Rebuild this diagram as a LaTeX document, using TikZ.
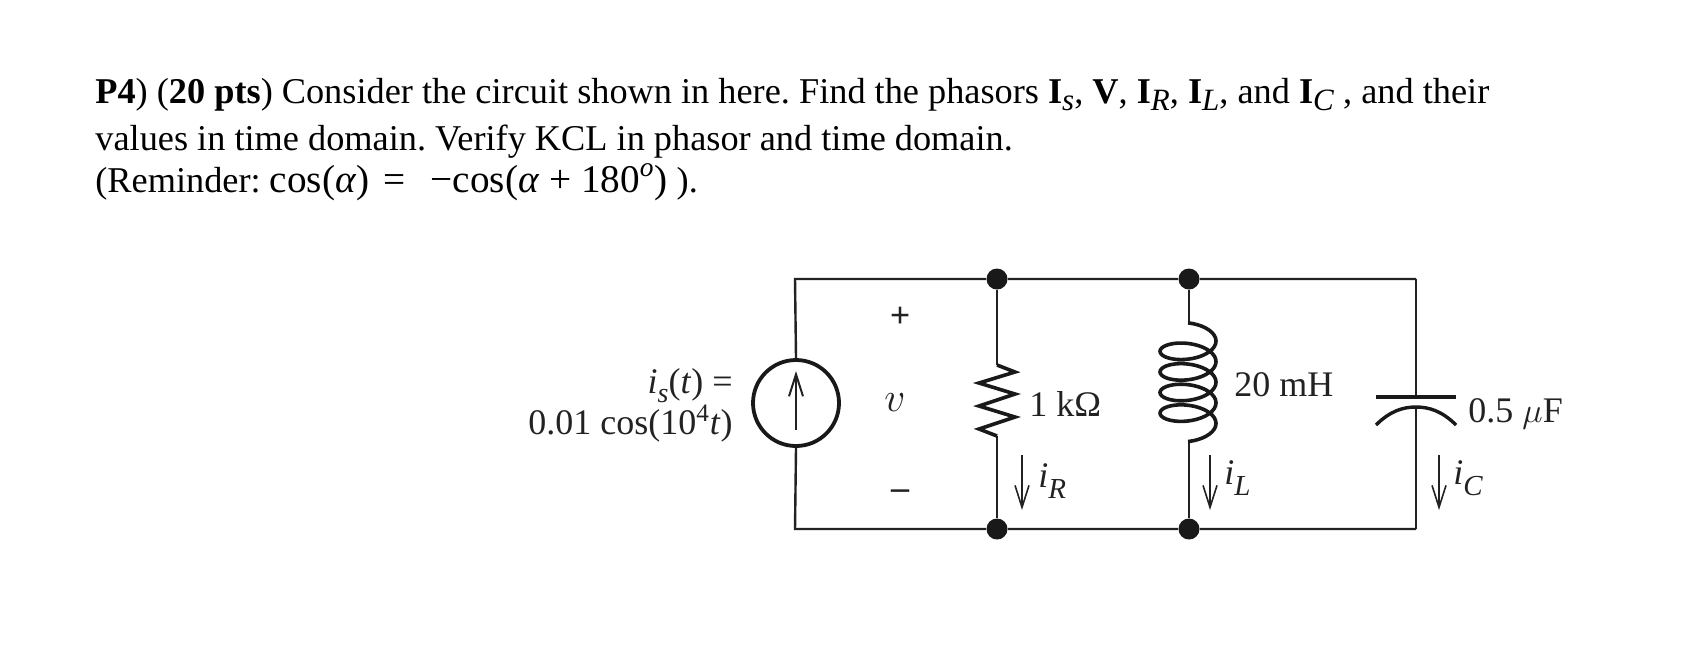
\documentclass[tikz,border=0pt]{standalone}
\usepackage{amsmath}
\usepackage{fontspec}
\setmainfont{Liberation Serif}
\usetikzlibrary{arrows.meta}
\definecolor{wire}{HTML}{222222}
\newcommand{\lowsub}[2]{\raisebox{#2}{\fontsize{15.5}{15.5}\selectfont\textit{#1}}}
\newcommand{\circsub}[1]{\raisebox{-0.32em}{\fontsize{14.5}{14.5}\selectfont\textit{#1}}}
\newcommand{\mathfont}{\fontsize{19.6}{19.6}\selectfont}
\tikzset{
    wireline/.style={wire,line width=1.2pt},
    dotnode/.style={circle,fill=black!90,inner sep=0pt,minimum size=10.5pt},
    titleline/.style={anchor=base west,inner sep=0pt,font=\frenchspacing\fontsize{18.15}{18.15}\selectfont},
    circlabel/.style={anchor=base west,inner sep=0pt,text=wire,font=\fontsize{18}{18}\selectfont},
    currarrow/.style={wire,line width=0.8pt,-{Straight Barb[length=11pt,width=7pt]}}
}

\begin{document}
\begin{tikzpicture}[x=0.5pt,y=-0.5pt]
    \useasboundingbox (0,0) rectangle (1706,666);

    % problem text
    \node[titleline] (lineA) at (95,103) {\textbf{P4}) (\textbf{20 pts}) Consider the circuit shown in here. Find the phasors \textbf{I}\lowsub{s}{-0.2em}, \textbf{V}, \textbf{I}\lowsub{R}{-0.2em}, \textbf{I}\lowsub{L}{-0.2em}, and \textbf{I}\lowsub{C}{-0.2em} , and their};
    \node[titleline] (lineB) at (95,150) {values in time domain. Verify KCL in phasor and time domain.};
    \node[titleline] (lineC) at (95,192) {(Reminder: {\mathfont cos(\textit{α})\hspace{0.1em} = \hspace{0.4em}−cos(\textit{α} + 180\textsuperscript{\textit{o}})} ).};

    % junctions and corners
    \node[dotnode] (topR) at (997,279) {};
    \node[dotnode] (topL) at (1189,279) {};
    \node[dotnode] (botR) at (997,529) {};
    \node[dotnode] (botL) at (1189,529) {};
    \coordinate (topA) at (795,279);
    \coordinate (botA) at (795,529);
    \coordinate (topC) at (1416,279);
    \coordinate (botC) at (1416,529);

    % source
    \node[circle,draw=black!90,line width=1.9pt,inner sep=0pt,minimum size=43pt] (src) at (796,403) {};
    \coordinate (srcfoot) at (796,430);
    \coordinate (srchead) at (796,371);
    \draw[currarrow,line width=1pt] (srcfoot)--(srchead);

    % outer wires
    \draw[wireline] (src.north)--(topA)--(topR)--(topL)--(topC);
    \draw[wireline] (src.south)--(botA)--(botR)--(botL)--(botC);

    % resistor
    \coordinate (resA) at (997,365);
    \coordinate (resB) at (997,436);
    \draw[wireline] (topR)--(resA);
    \draw[wireline] (resB)--(botR);
    \draw[black!90,line width=1.8pt] (resA)--(1015,372)--(979,383)--(1015,394)--(979,406)--(1015,417)--(979,429)--(resB);

    % inductor
    \coordinate (indA) at (1189,322);
    \coordinate (indB) at (1189,442);
    \draw[wireline] (topL)--(indA);
    \draw[wireline] (indB)--(botL);
    \draw[black!90,line width=1.8pt] plot[smooth,domain=-90:1530,samples=163] ({1188+28*cos(\x)},{341+\x/360*20.6+13*sin(\x)});

    % capacitor
    \coordinate (capA) at (1416,397);
    \coordinate (capB) at (1416,407);
    \draw[wireline] (topC)--(capA);
    \draw[wireline] (capB)--(botC);
    \draw[black!90,line width=2.4pt] (1376,397)--(1456,397);
    \draw[black!90,line width=1.7pt] (1376,425) .. controls (1390,411) and (1403,407) .. (capB) .. controls (1429,407) and (1442,411) .. (1456,425);

    % currents
    \foreach \name/\xpos in {arrR/1022,arrL/1210,arrC/1439}{
        \coordinate (\name a) at (\xpos,455);
        \coordinate (\name b) at (\xpos,510);
        \draw[currarrow] (\name a)--(\name b);
    }

    % labels
    \node[anchor=base east,inner sep=0pt,text=wire,font=\fontsize{18}{18}\selectfont] (srcA) at (733,393) {\textit{i\raisebox{-0.25em}{\fontsize{14}{14}\selectfont s}}(\textit{t}) =};
    \node[anchor=base east,inner sep=0pt,text=wire,font=\fontsize{18}{18}\selectfont] (srcB) at (733,434) {0.01 cos(10\textsuperscript{4}\textit{t})};
    \node[circlabel,anchor=center,font=\bfseries\fontsize{18}{18}\selectfont] (plus) at (900,317) {+};
    \node[circlabel,anchor=center,font=\fontsize{21}{21}\selectfont] (volt) at (895,403) {$v$};
    \node[circlabel,anchor=center,font=\bfseries\fontsize{18}{18}\selectfont] (minus) at (900,495) {–};
    \node[circlabel] (resval) at (1029,416) {1 kΩ};
    \node[circlabel] (indval) at (1234,396) {20 mH};
    \node[circlabel] (capval) at (1468,422) {0.5 $\mu$F};
    \node[circlabel] (iR) at (1038,487) {\textit{i}\circsub{R}};
    \node[circlabel] (iL) at (1224,484) {\textit{i}\circsub{L}};
    \node[circlabel] (iC) at (1453,484) {\textit{i}\circsub{C}};
\end{tikzpicture}
\end{document}
